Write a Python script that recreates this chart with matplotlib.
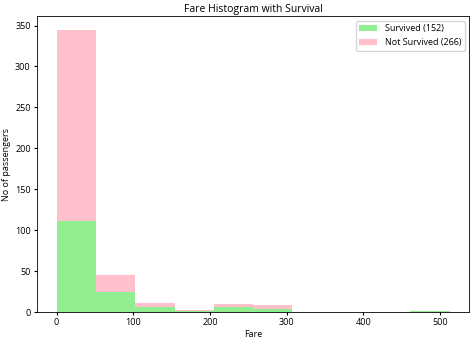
import numpy as np
import matplotlib
matplotlib.use('Agg')
import matplotlib.pyplot as plt

# fare bins (10 equal bins from 0 to the max fare)
bin_edges = np.linspace(0, 512.3292, 11)
survived = [111, 24, 6, 1, 6, 4, 0, 0, 0, 1]
not_survived = [233, 21, 5, 1, 4, 4, 0, 0, 0, 0]

plt.rcParams['font.family'] = ['Open Sans', 'DejaVu Sans']
plt.rcParams['font.size'] = 6.5

fig = plt.figure(figsize=(4.74, 3.41), dpi=100)
ax = fig.add_axes([0.078, 0.085, 0.912, 0.867])

centers = (bin_edges[:-1] + bin_edges[1:]) / 2
ax.hist([centers, centers], bins=bin_edges, weights=[survived, not_survived],
        stacked=True, color=['lightgreen', 'pink'],
        label=['Survived (152)', 'Not Survived (266)'])

ax.set_title('Fare Histogram with Survival', fontsize=7.5, pad=3)
ax.set_xlabel('Fare', fontsize=6.5, labelpad=2)
ax.set_ylabel('No of passengers', fontsize=6.5, labelpad=3)
ax.tick_params(labelsize=6.5, length=2.5, pad=2)
for s in ax.spines.values():
    s.set_linewidth(0.6)
ax.legend(loc='upper right', fontsize=6.5)

plt.savefig('out.png')
plt.close()
